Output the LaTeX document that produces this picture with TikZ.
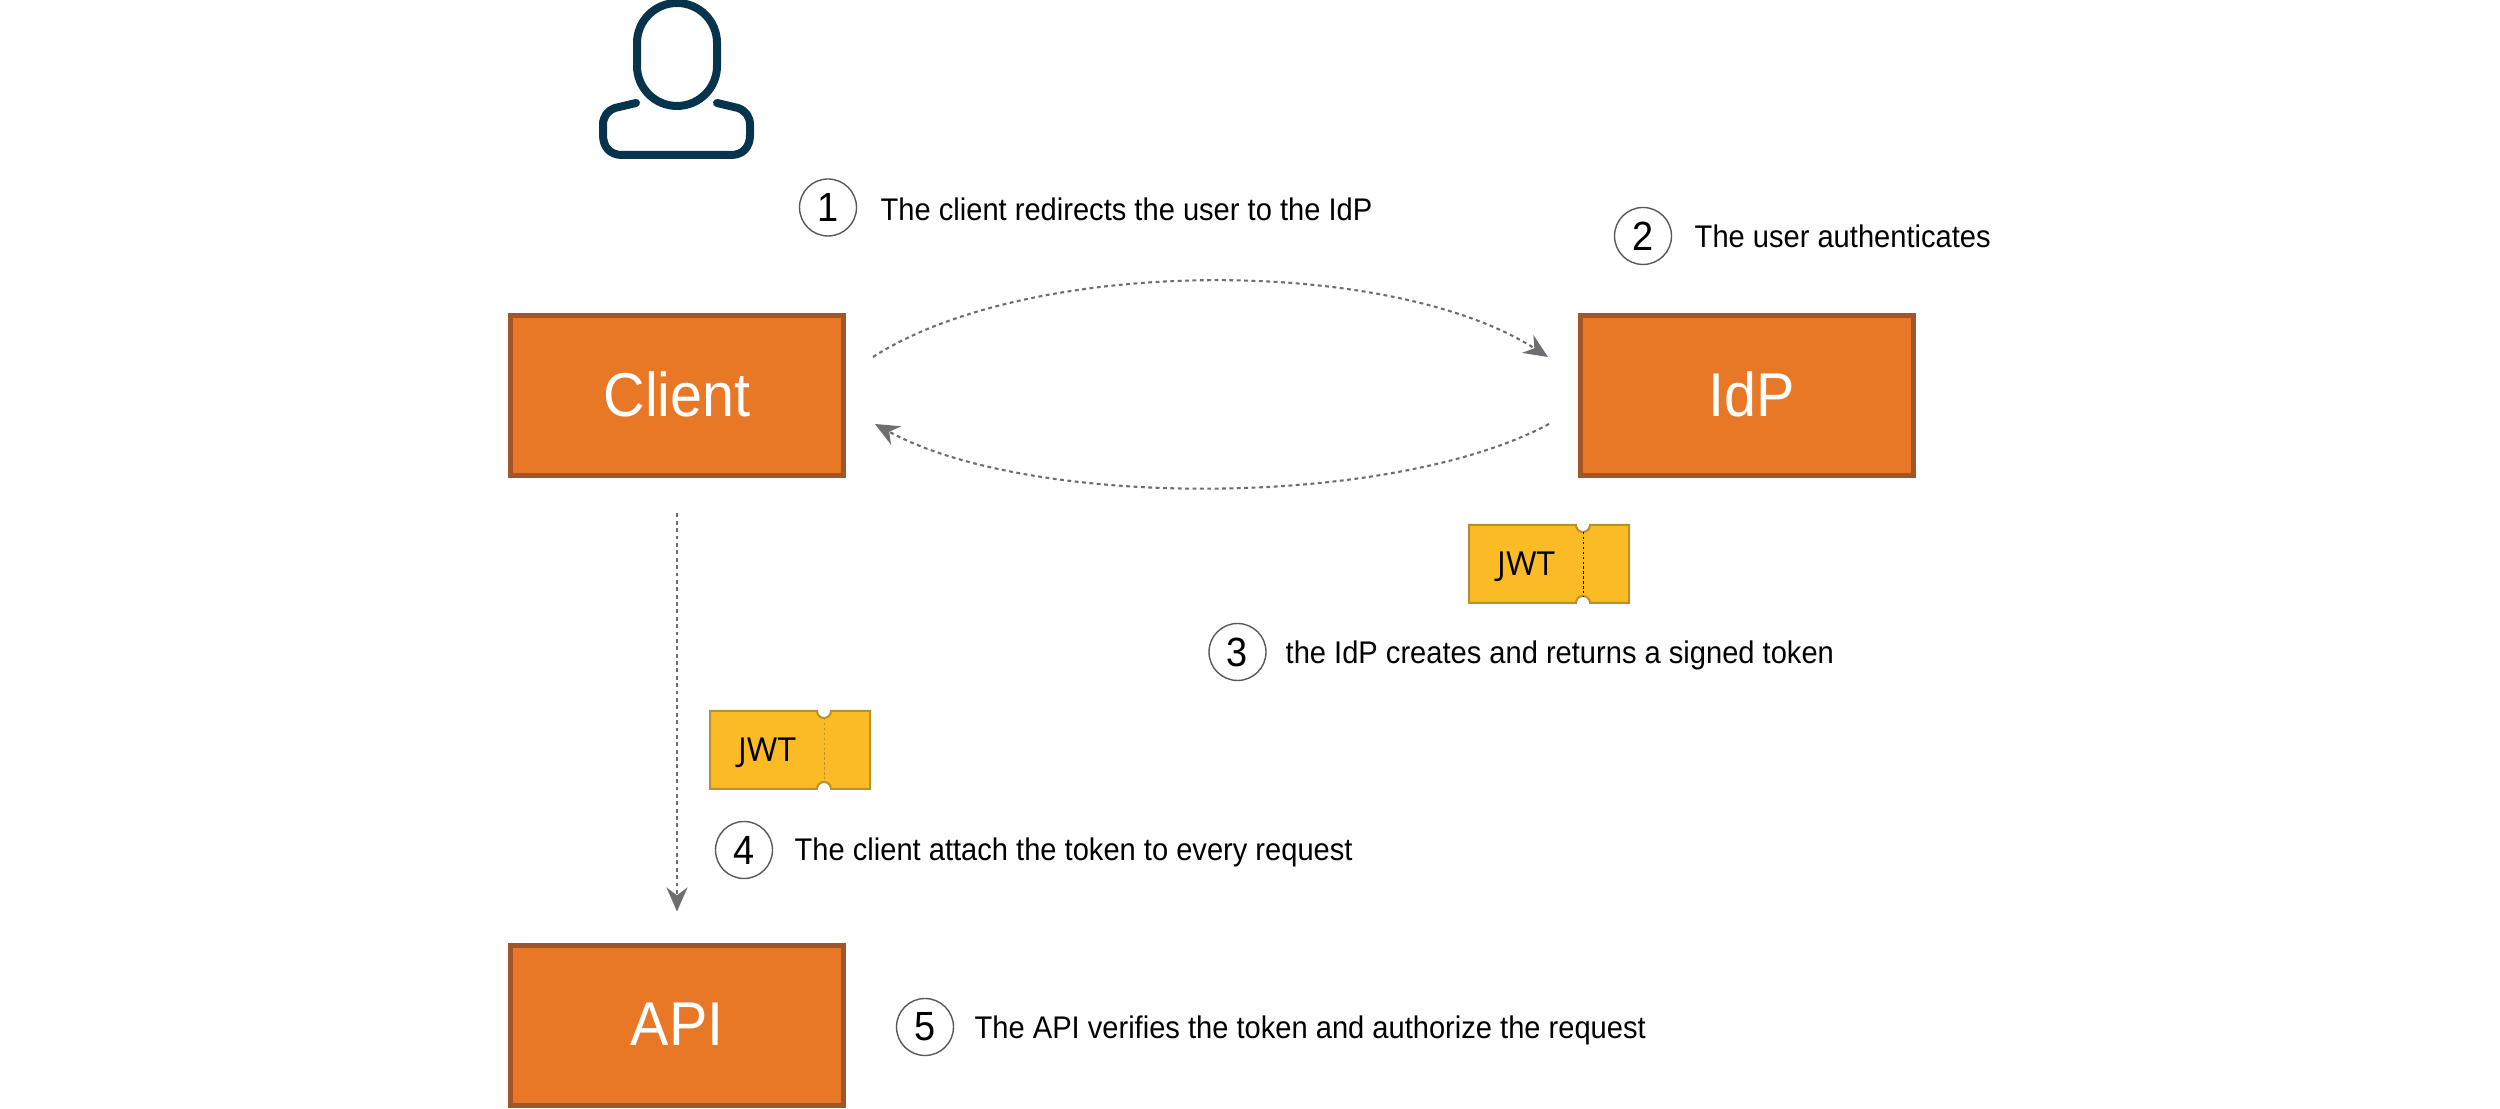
\documentclass[tikz,border=0pt]{standalone}
\usepackage{fontspec}
\setmainfont[FakeStretch=.93]{Liberation Sans}
\newfontfamily\jwtfont{Open Sans}
\usetikzlibrary{arrows.meta}
\definecolor{boxfill}{HTML}{E97826}
\definecolor{boxline}{HTML}{A0552B}
\definecolor{ticketfill}{HTML}{FABB24}
\definecolor{ticketline}{HTML}{B8902F}
\definecolor{flowgray}{HTML}{6D6E71}
\definecolor{stepgray}{HTML}{595959}
\definecolor{usernavy}{HTML}{07344D}
\tikzset{
	party/.style={draw=boxline, fill=boxfill, line width=.05cm, minimum width=3.33cm,
		minimum height=1.6cm, text=white, text depth=.03cm, font=\fontsize{17.6}{18}\selectfont},
	flow/.style={draw=flowgray, line width=.021cm, dash pattern=on 1.1pt off 1pt,
		-{Stealth[length=.24cm,width=.21cm]}},
	stepmark/.style={circle, draw=stepgray, line width=.014cm, minimum size=.57cm,
		inner sep=0, font=\fontsize{11.6}{12}\selectfont},
	steptext/.style={anchor=west, inner sep=0, text height=.28cm, text depth=.07cm,
		font=\fontsize{8.9}{12}\selectfont},
	ticket/.style={draw=ticketline, fill=ticketfill, line width=.02cm},
	usericon/.style={draw=usernavy, line width=.08cm, line cap=round, line join=round}
}
\begin{document}
\begin{tikzpicture}
	\useasboundingbox (0, 0) rectangle (25, 11.09);
	\draw[usericon](6.37, 10.66) arc (180:0:.4) -- (7.17, 10.43) arc (0:-180:.4) -- cycle;
	\draw[usericon](6.36, 10.06) -- (6.15, 10.01) .. controls (6.07, 9.98) and (6.03, 9.92) .. (6.03, 9.84)
	-- (6.03, 9.74) .. controls (6.03, 9.62) and (6.1, 9.54) .. (6.22, 9.54)
	-- (7.31, 9.54) .. controls (7.43, 9.54) and (7.5, 9.62) .. (7.5, 9.74)
	-- (7.5, 9.84) .. controls (7.5, 9.92) and (7.46, 9.98) .. (7.38, 10.01) -- (7.17, 10.06);
	\node[party] (client) at (6.77, 7.13) {Client};
	\node[party, text width=1.1cm, align=center] (idp) at (17.47, 7.13) {\hspace{.09cm}IdP};
	\node[party] (api) at (6.77, .83) {API};
	\coordinate (clientout) at (8.73, 7.52);
	\coordinate (idpin) at (15.48, 7.52);
	\coordinate (idpout) at (15.49, 6.85);
	\coordinate (clientin) at (8.75, 6.85);
	\draw[flow](clientout) .. controls (10.3, 8.53) and (13.9, 8.53) .. (idpin);
	\draw[flow](idpout) .. controls (13.9, 6) and (10.3, 6) .. (clientin);
	\draw[flow, shorten <=.35cm, shorten >=.32cm](client) -- (api);
	\foreach \x/\y/\dots/\i in {14.69/5.84/black/1, 7.1/3.98/ticketline/2}
	{
		\draw[ticket](\x, \y) -- ++(1.07, 0) arc (180:360:.07) -- ++(.39, 0) -- ++(0, -.78)
		-- ++(-.39, 0) arc (0:180:.07) -- ++(-1.07, 0) -- cycle;
		\draw[\dots, line width=.01cm, dash pattern=on .7pt off .7pt](\x+1.14, \y-.07) -- (\x+1.14, \y-.71);
		\node[font=\jwtfont\fontsize{9.4}{12}\selectfont, inner sep=0] (jwt\i) at (\x+.57, \y-.42) {JWT};
	}
	\foreach \n/\x/\y/\tx/\ty/\label in {
		1/8.28/9.015/8.8/8.985/The client redirects the user to the IdP,
		2/16.43/8.73/16.94/8.715/The user authenticates,
		3/12.375/4.57/12.85/4.555/the IdP creates and returns a signed token,
		4/7.44/2.59/7.94/2.585/The client attach the token to every request,
		5/9.25/.82/9.74/.81/The API verifies the token and authorize the request}
	{
		\node[stepmark] (step\n) at (\x, \y) {\n};
		\node[steptext] (text\n) at (\tx, \ty) {\label};
	}
\end{tikzpicture}
\end{document}
